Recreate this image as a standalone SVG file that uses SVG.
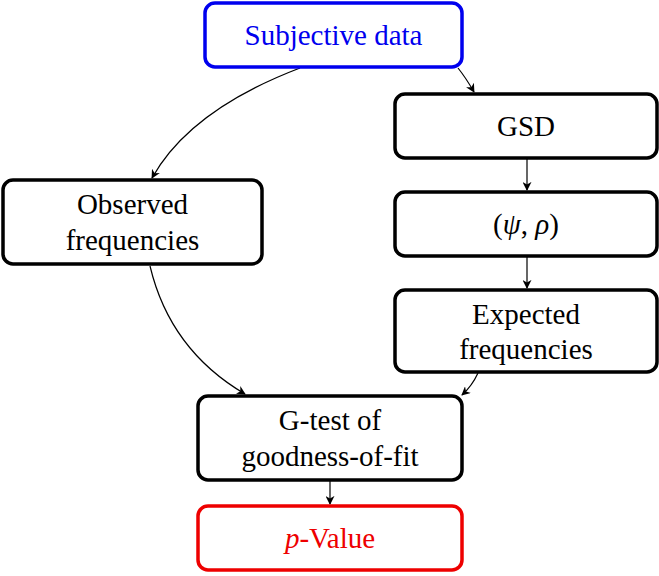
<svg xmlns="http://www.w3.org/2000/svg" width="659" height="576" viewBox="0 0 659 576">
<style>
.n{fill:#fff;stroke:#000;stroke-width:3.5}
.t{font-family:"Liberation Serif",serif;font-size:29px;text-anchor:middle;fill:#000}
.c{fill:none;stroke:#000;stroke-width:1.2;marker-end:url(#a)}
</style>
<defs><marker id="a" viewBox="0 0 10 10" refX="9" refY="5" markerWidth="9" markerHeight="9" markerUnits="userSpaceOnUse" orient="auto"><path d="M0,0 L10,5 L0,10 L3,5 Z" fill="#000"/></marker></defs>
<g id="connectors">
<path class="c" d="M458,68 Q466,78 474,92"/>
<path class="c" d="M300,68 Q190,110 152,178"/>
<path class="c" d="M527,159 L527,190"/>
<path class="c" d="M527,257 L527,288"/>
<path class="c" d="M478,373 Q472,386 462,395"/>
<path class="c" d="M150,266 Q170,350 245,394"/>
<path class="c" d="M330,481 L330,504"/>
</g>
<g id="subjective"><rect class="n" x="205" y="3" width="257" height="64" rx="10" style="stroke:#0000ee"/><text class="t" x="333.5" y="45" style="fill:#0000ee">Subjective data</text></g>
<g id="gsd"><rect class="n" x="395" y="94" width="262" height="64" rx="10"/><text class="t" x="526" y="136">GSD</text></g>
<g id="psirho"><rect class="n" x="395" y="192" width="262" height="64" rx="10"/><text class="t" x="526" y="234">(<tspan font-style="italic">ψ</tspan>, <tspan font-style="italic">ρ</tspan>)</text></g>
<g id="expected"><rect class="n" x="395" y="290" width="262" height="82" rx="10"/><text class="t" x="526" y="324">Expected</text><text class="t" x="526" y="359">frequencies</text></g>
<g id="observed"><rect class="n" x="3" y="180" width="259" height="84" rx="10"/><text class="t" x="132.5" y="214">Observed</text><text class="t" x="132.5" y="250">frequencies</text></g>
<g id="gtest"><rect class="n" x="198" y="396" width="264" height="84" rx="10"/><text class="t" x="330" y="430">G-test of</text><text class="t" x="330" y="466">goodness-of-fit</text></g>
<g id="pvalue"><rect class="n" x="198" y="506" width="264" height="64" rx="10" style="stroke:#ee0000"/><text class="t" x="330" y="548" style="fill:#ee0000"><tspan font-style="italic">p</tspan>-Value</text></g>
</svg>
